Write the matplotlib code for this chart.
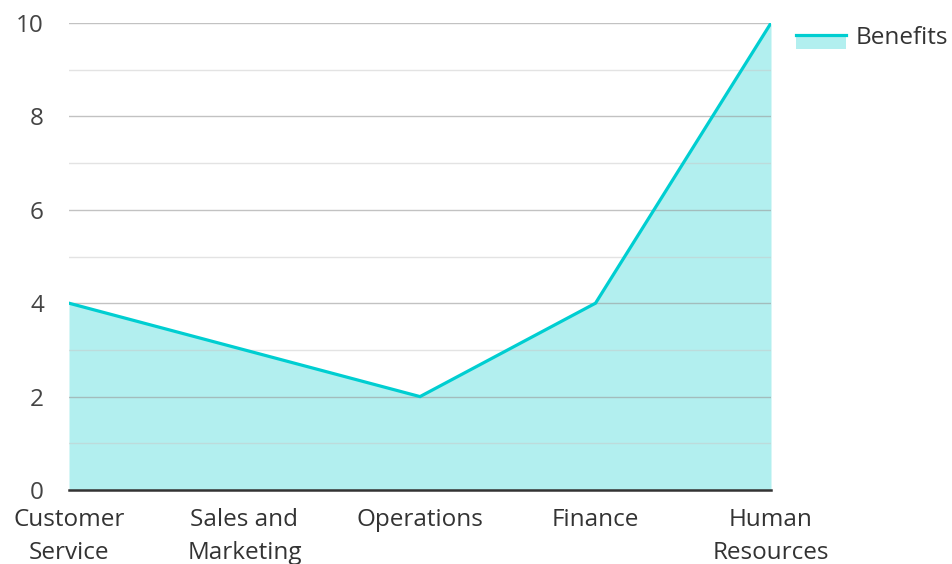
import matplotlib
matplotlib.use("Agg")
import matplotlib.pyplot as plt
from matplotlib.patches import Rectangle
from matplotlib.lines import Line2D
from matplotlib.legend_handler import HandlerBase

plt.rcParams['font.family'] = ['Open Sans', 'DejaVu Sans']

categories = ["Customer\nService", "Sales and\nMarketing", "Operations", "Finance", "Human\nResources"]
benefits = [4, 3, 2, 4, 10]
series_name = "Benefits"

line_color = "#00CED1"
fill_color = "#B2EFEF"
fs = 17.5

fig = plt.figure(figsize=(9.53, 5.64), dpi=100)
ax = fig.add_axes([69/953, 74/564, (771-69)/953, (490-23)/564])

x = list(range(len(categories)))
ax.fill_between(x, benefits, 0, color=fill_color, zorder=1, linewidth=0)
ax.plot(x, benefits, color=line_color, linewidth=2.3, zorder=3, solid_joinstyle='miter')

ax.set_xlim(0, len(categories) - 1)
ax.set_ylim(0, 10)
ax.set_yticks(range(0, 11, 2))
ax.set_yticks(range(1, 11, 2), minor=True)
ax.set_axisbelow(False)
ax.grid(axis='y', which='major', color='#9a9a9a', linewidth=1.0, alpha=0.6)
ax.grid(axis='y', which='minor', color='#c8c8c8', linewidth=1.0, alpha=0.5)

ax.set_xticks(x)
ax.set_xticklabels(categories, fontsize=fs, color='#333333', linespacing=1.48)
ax.tick_params(axis='y', which='both', length=0, labelsize=fs, labelcolor='#444444', pad=18)
ax.tick_params(axis='x', length=0, pad=13)

for s in ['top', 'right', 'left']:
    ax.spines[s].set_visible(False)
ax.spines['bottom'].set_color('#333333')
ax.spines['bottom'].set_linewidth(1.8)
ax.spines['bottom'].set_zorder(4)


class AreaHandler(HandlerBase):
    def create_artists(self, legend, orig_handle, xdescent, ydescent, width, height, fontsize, trans):
        bottom = -ydescent - 0.4 * height
        top = -ydescent + 0.5 * height
        rect = Rectangle((-xdescent, bottom), width, top - bottom, facecolor=fill_color,
                         edgecolor='none', transform=trans)
        line = Line2D([-xdescent, -xdescent + width], [top, top], color=line_color,
                      linewidth=2.3, transform=trans)
        return [rect, line]


proxy = Rectangle((0, 0), 1, 1)
fig.legend([proxy], [series_name], handler_map={Rectangle: AreaHandler()},
           loc='center left', bbox_to_anchor=(796/953, 1 - 38/564), frameon=False,
           borderpad=0, borderaxespad=0,
           fontsize=fs, handlelength=2.05, handleheight=0.6, handletextpad=0.4,
           labelcolor='#333333')

fig.savefig("out.png", dpi=100)
